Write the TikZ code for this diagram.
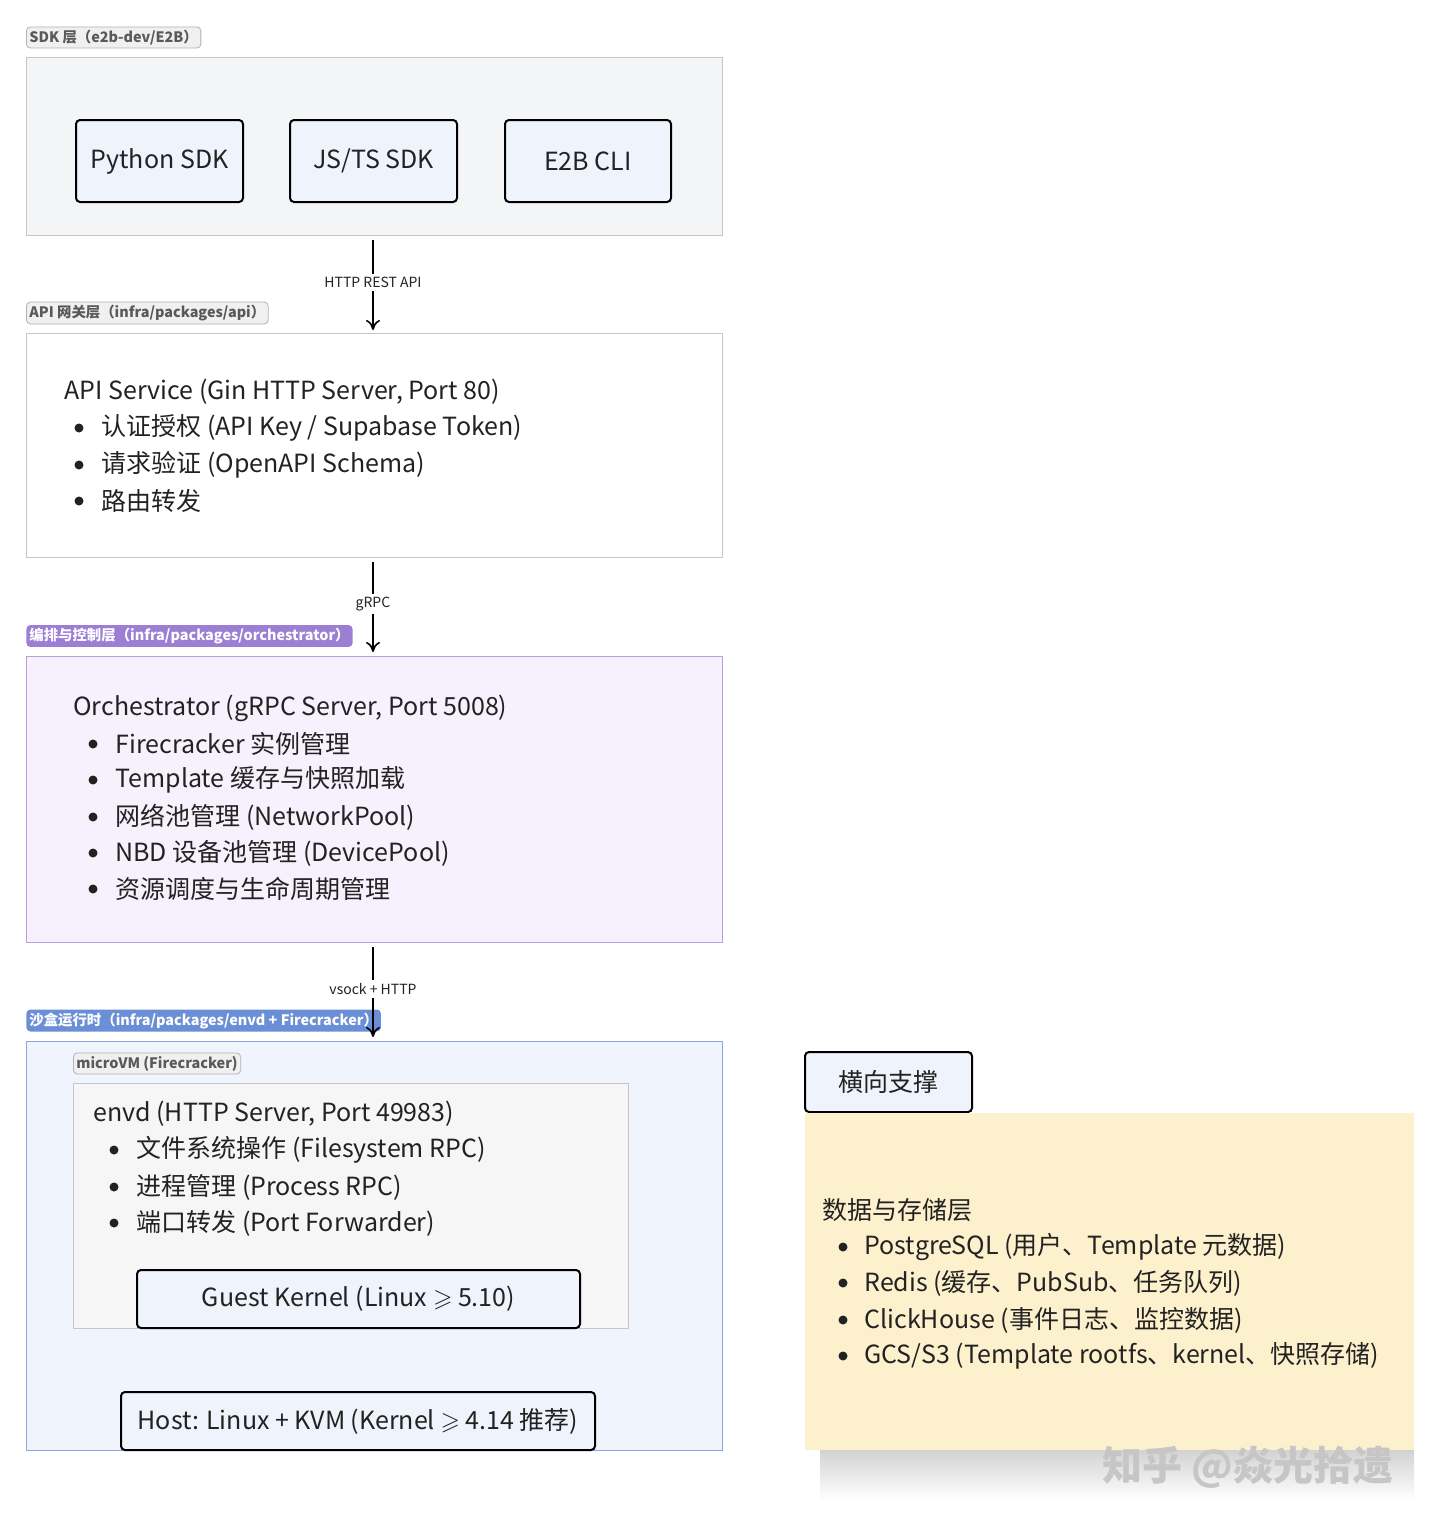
\documentclass[tikz,border=0pt]{standalone}
\usepackage{amssymb}
\usepackage{fontspec}
\setmainfont{Noto Sans CJK SC}
\usetikzlibrary{arrows.meta}
\definecolor{boxfill}{HTML}{EEF3FC}
\definecolor{sdkfill}{HTML}{F4F5F7}
\definecolor{orchfill}{HTML}{F6F1FC}
\definecolor{orchline}{HTML}{B9A0DC}
\definecolor{orchlab}{HTML}{9C7FD4}
\definecolor{sbfill}{HTML}{F0F4FC}
\definecolor{sbline}{HTML}{8AA6DC}
\definecolor{sblab}{HTML}{6B8FD6}
\definecolor{yel}{HTML}{FDF0CC}
\definecolor{txt}{HTML}{222222}
\begin{document}
\begin{tikzpicture}[x=0.5pt,y=-0.5pt,
  comp/.style={draw=black,line width=1pt,fill=boxfill,rounded corners=2pt,font=\fontsize{12.5}{15}\selectfont,text=txt},
  frame/.style={draw=#1,line width=0.5pt},
  glab/.style={draw=gray!60,fill=gray!12,rounded corners=2pt,font=\bfseries\fontsize{7.2}{9}\selectfont,text=gray!70!black,inner sep=1.5pt,anchor=west},
  clab/.style={fill=#1,rounded corners=2pt,font=\bfseries\fontsize{7.2}{9}\selectfont,text=white,inner sep=1.5pt,anchor=west},
  t/.style={anchor=west,font=\fontsize{12.5}{15}\selectfont,text=txt,inner sep=0pt},
  bul/.style={fill=txt},
  alab/.style={fill=white,font=\fontsize{7}{9}\selectfont,text=txt,inner sep=1.5pt},
  arr/.style={-{To[length=5pt,width=7pt]},line width=0.8pt}]
\useasboundingbox (0,0) rectangle (1440,1527);
\fill[white] (0,0) rectangle (1440,1527);
% SDK layer
\node[glab] (sdkl) at (26,37.5) {SDK 层（e2b-dev/E2B）};
\draw[frame=gray!45,fill=sdkfill] (26,57) rectangle (722,235);
\node[comp,minimum width=83.5pt,minimum height=41pt] (py) at (159.5,161) {Python SDK};
\node[comp,minimum width=83.5pt,minimum height=41pt] (js) at (373.5,161) {JS/TS SDK};
\node[comp,minimum width=83pt,minimum height=41pt] (cli) at (588,161) {E2B CLI};
% API layer
\node[glab] (apil) at (26,313) {API 网关层（infra/packages/api）};
\draw[frame=gray!45,fill=white] (26,333) rectangle (722,557);
\coordinate (a1s) at (373,240); \coordinate (a1e) at (373,330);
\draw[arr] (a1s) -- (a1e) node[alab,pos=0.47] (l1) {HTTP REST API};
\node[t] (api0) at (64,392) {API Service (Gin HTTP Server, Port 80)};
\foreach \y/\s in {428/{认证授权 (API Key / Supabase Token)},465/{请求验证 (OpenAPI Schema)},501/{路由转发}}{
  \fill[bul] (79,\y) circle (4.5); \node[t] at (101,\y) {\s};}
% Orchestrator
\coordinate (a2s) at (373,562); \coordinate (a2e) at (373,652);
\draw[arr] (a2s) -- (a2e) node[alab,pos=0.47] (l2) {gRPC};
\node[clab=orchlab] (orl) at (26,636) {编排与控制层（infra/packages/orchestrator）};
\draw[frame=orchline,fill=orchfill] (26,656) rectangle (722,942);
\node[t] (or0) at (73,708) {Orchestrator (gRPC Server, Port 5008)};
\foreach \y/\s in {744/{Firecracker 实例管理},780/{Template 缓存与快照加载},817/{网络池管理 (NetworkPool)},853/{NBD 设备池管理 (DevicePool)},889/{资源调度与生命周期管理}}{
  \fill[bul] (93,\y) circle (4.5); \node[t] at (115,\y) {\s};}
% Sandbox
\draw[frame=sbline,fill=sbfill] (26,1041) rectangle (722,1450);
\node[clab=sblab] (sbl) at (26,1020.5) {沙盒运行时（infra/packages/envd + Firecracker）};
\coordinate (a3s) at (373,947); \coordinate (a3e) at (373,1037);
\draw[arr] (a3s) -- (a3e);
\node[alab] (l3) at (373,989) {vsock + HTTP};
\node[glab] (mvl) at (73,1063.5) {microVM (Firecracker)};
\draw[frame=gray!45,fill=gray!7] (73,1083) rectangle (628,1328);
\node[t] (ev0) at (93,1114) {envd (HTTP Server, Port 49983)};
\foreach \y/\s in {1150/{文件系统操作 (Filesystem RPC)},1187/{进程管理 (Process RPC)},1223/{端口转发 (Port Forwarder)}}{
  \fill[bul] (114,\y) circle (4.5); \node[t] at (136,\y) {\s};}
\node[comp,minimum width=221.5pt,minimum height=29pt] (gk) at (358.5,1299) {Guest Kernel (Linux $\geqslant$ 5.10)};
\node[comp,minimum width=237pt,minimum height=29pt] (host) at (358,1421) {Host: Linux + KVM (Kernel $\geqslant$ 4.14 推荐)};
% Side support
\node[comp,minimum width=83.5pt,minimum height=30pt] (side) at (888.5,1082) {横向支撑};
\shade[top color=gray!35,bottom color=white] (820,1450) rectangle (1414,1500);
\fill[yel] (805,1113) rectangle (1414,1450);
\node[t] (ds0) at (822,1210) {数据与存储层};
\foreach \y/\s in {1247/{PostgreSQL (用户、Template 元数据)},1283/{Redis (缓存、PubSub、任务队列)},1320/{ClickHouse (事件日志、监控数据)},1356/{GCS/S3 (Template rootfs、kernel、快照存储)}}{
  \fill[bul] (843,\y) circle (4.5); \node[t] at (864,\y) {\s};}
\node[font=\bfseries\fontsize{20}{24}\selectfont,text=gray!45] (wm) at (1248,1467) {知乎 @焱光拾遗};
\end{tikzpicture}
\end{document}
